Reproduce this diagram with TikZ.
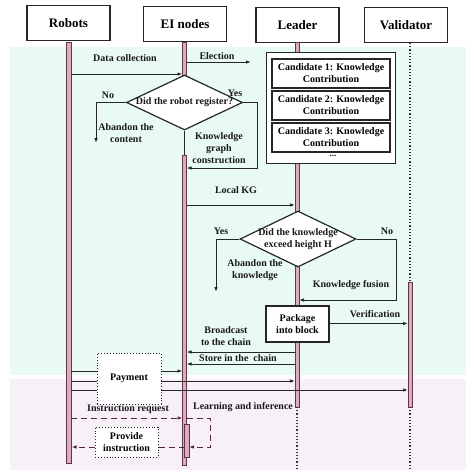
\documentclass[tikz,border=0pt]{standalone}
\usepackage{fontspec}
\setmainfont{Liberation Serif}
\usetikzlibrary{arrows.meta,shapes.geometric}
\definecolor{tealbg}{RGB}{233,250,243}
\definecolor{pinkbg}{RGB}{248,240,249}
\definecolor{barfill}{RGB}{222,172,192}
\definecolor{barline}{RGB}{95,55,68}
\definecolor{dashc}{RGB}{85,40,55}
\begin{document}
\begin{tikzpicture}[x=1pt,y=-1pt,
 hdr/.style={draw=black!85, line width=1.3pt, fill=white, minimum width=83pt, minimum height=35pt, font=\fontsize{13}{15}\selectfont\bfseries, inner sep=0pt},
 lbl/.style={font=\fontsize{10}{12}\selectfont\bfseries, align=center, inner sep=0.5pt, text=black!90},
 bar/.style={draw=barline, fill=barfill, line width=0.6pt},
 ln/.style={draw=black!85, line width=1pt},
 arr/.style={ln, -{Latex[length=5pt,width=3.6pt]}},
 dsh/.style={draw=dashc, line width=1pt, dash pattern=on 6pt off 4pt},
 darr/.style={dsh, -{Latex[length=5pt,width=3.6pt]}},
 dec/.style={diamond, draw=black!85, line width=1.2pt, fill=white, inner sep=0pt},
 box/.style={draw=black!85, line width=1.1pt, fill=white},
 cbox/.style={draw=black!85, line width=1.4pt, fill=white, minimum width=118pt, minimum height=29pt, inner sep=0pt, font=\fontsize{10}{12}\selectfont\bfseries, align=center},
 dbox/.style={draw=black!85, line width=0.9pt, dotted, fill=white, inner sep=0pt, font=\fontsize{10}{12}\selectfont\bfseries, align=center},
 life/.style={draw=black!80, line width=1.2pt, dotted},
]
\useasboundingbox (0,0) rectangle (474,474);
% backgrounds
\fill[tealbg] (10,47) rectangle (466,375);
\fill[pinkbg] (10,379) rectangle (466,470);
% headers
\node[hdr] (hR) at (68.5,23) {Robots};
\node[hdr] (hE) at (185,24) {EI nodes};
\node[hdr] (hL) at (297.5,25) {Leader};
\node[hdr] (hV) at (406,25) {Validator};
% lifelines
\draw[bar] (66.5,42) rectangle (71,463);
\draw[bar] (182.5,42) rectangle (186.5,75);
\draw[bar] (182.5,155) rectangle (186.5,465);
\draw[bar] (295,42) rectangle (299,407);
\draw[life] (297,407) -- (297,470);
\draw[life] (410,43) -- (410,282);
\draw[bar] (408,282) rectangle (412,407);
\draw[life] (410,407) -- (410,470);
% candidate box
\node[box, line width=1pt, minimum width=129pt, minimum height=111pt, inner sep=0pt] (cand) at (330.5,107.5) {};
\node[cbox] (c1) at (331,73.5) {Candidate 1: Knowledge\\Contribution};
\node[cbox] (c2) at (331,105.5) {Candidate 2: Knowledge\\Contribution};
\node[cbox] (c3) at (331,137.5) {Candidate 3: Knowledge\\Contribution};
\node[lbl, font=\fontsize{9}{10}\selectfont\bfseries] (dots) at (333,156) {...};
% diamonds
\node[dec, minimum width=116pt, minimum height=55pt] (d1) at (184.5,102.5) {};
\node[lbl] (d1t) at (d1) {Did the robot register?};
\node[dec, minimum width=116pt, minimum height=56pt] (d2) at (298,239) {};
\node[lbl] (d2t) at (d2) {Did the knowledge\\exceed height H};
% package box
\node[box, minimum width=63pt, minimum height=36pt, inner sep=0pt, font=\fontsize{10}{12}\selectfont\bfseries, align=center] (pkg) at (297.5,324) {Package\\into block};
% coordinates
\coordinate (r74) at (71,74);   \coordinate (e74) at (182.5,74);
\coordinate (e62) at (186.5,62); \coordinate (el) at (251,62);
\coordinate (ebar) at (184.5,155);
\coordinate (no1) at (96,102.5); \coordinate (ab1) at (96,143);
\coordinate (y1a) at (257,102.5); \coordinate (y1b) at (257,168); \coordinate (e168) at (186.5,168);
\coordinate (e205) at (186.5,205); \coordinate (l205) at (295,205);
\coordinate (y2a) at (216,239); \coordinate (y2b) at (216,292);
\coordinate (n2a) at (396,239); \coordinate (n2b) at (396,300); \coordinate (l300) at (299,300);
\coordinate (v323) at (408,323.5);
\coordinate (l352) at (295,352); \coordinate (e352) at (186.5,352);
\coordinate (l364) at (295,364); \coordinate (e364) at (186.5,364);
\coordinate (r371) at (71,371); \coordinate (e371) at (182.5,371);
\coordinate (r381) at (71,381); \coordinate (l381) at (295,381);
\coordinate (r390) at (71,390); \coordinate (v390) at (408,390);
\coordinate (r418) at (71,418); \coordinate (e418) at (182.5,418);
\coordinate (e418b) at (186.5,418); \coordinate (lp1) at (210,418); \coordinate (lp2) at (210,447); \coordinate (a447) at (189,447);
\coordinate (e447) at (184.5,447); \coordinate (r447) at (71.5,447);
% payment box
\node[dbox, minimum width=64pt, minimum height=51pt] (pay) at (129,378.5) {Payment};
% connectors
\draw[arr] (r74) -- (e74);
\draw[arr] (e62) -- (el);
\draw[ln] (d1.south) -- (ebar);
\draw[arr] (d1.west) -- (no1) -- (ab1);
\draw[arr] (d1.east) -- (y1a) -- (y1b) -- (e168);
\draw[arr] (e205) -- (l205);
\draw[arr] (d2.west) -- (y2a) -- (y2b);
\draw[arr] (d2.east) -- (n2a) -- (n2b) -- (l300);
\draw[arr] (pkg.east |- v323) -- (v323);
\draw[arr] (l352) -- (e352);
\draw[arr] (l364) -- (e364);
\draw[ln] (r371) -- (pay.west |- r371);
\draw[arr] (pay.east |- r371) -- (e371);
\draw[ln] (r381) -- (pay.west |- r381);
\draw[arr] (pay.east |- r381) -- (l381);
\draw[ln] (r390) -- (pay.west |- r390);
\draw[arr] (pay.east |- r390) -- (v390);
\draw[darr] (r418) -- (e418);
\draw[darr] (e418b) -- (lp1) -- (lp2) -- (a447);
\draw[darr] (e447) -- (r447);
% activation bar
\draw[bar] (184.5,424) rectangle (189,457);
% provide box
\node[dbox, minimum width=63pt, minimum height=30pt] (prov) at (126.5,442) {Provide\\instruction};
% labels
\node[lbl] (tdc) at (125,58) {Data collection};
\node[lbl] (tel) at (217,56) {Election};
\node[lbl] (tno1) at (108,95) {No};
\node[lbl] (tab1) at (126,133) {Abandon the\\content};
\node[lbl] (tyes1) at (235,93) {Yes};
\node[lbl] (tkg) at (219,148) {Knowledge\\graph\\construction};
\node[lbl] (tlkg) at (236,190) {Local KG};
\node[lbl] (tyes2) at (221,231) {Yes};
\node[lbl] (tab2) at (255,270) {Abandon the\\knowledge};
\node[lbl] (tno2) at (387,231) {No};
\node[lbl] (tkf) at (351,285) {Knowledge fusion};
\node[lbl] (tver) at (375,314) {Verification};
\node[lbl] (tbc) at (226,336.5) {Broadcast\\to the chain};
\node[lbl] (tst) at (238,358) {Store in the\ \ chain};
\node[lbl] (tir) at (128,409) {Instruction request};
\node[lbl] (tli) at (243,407) {Learning and inference};
\end{tikzpicture}
\end{document}
